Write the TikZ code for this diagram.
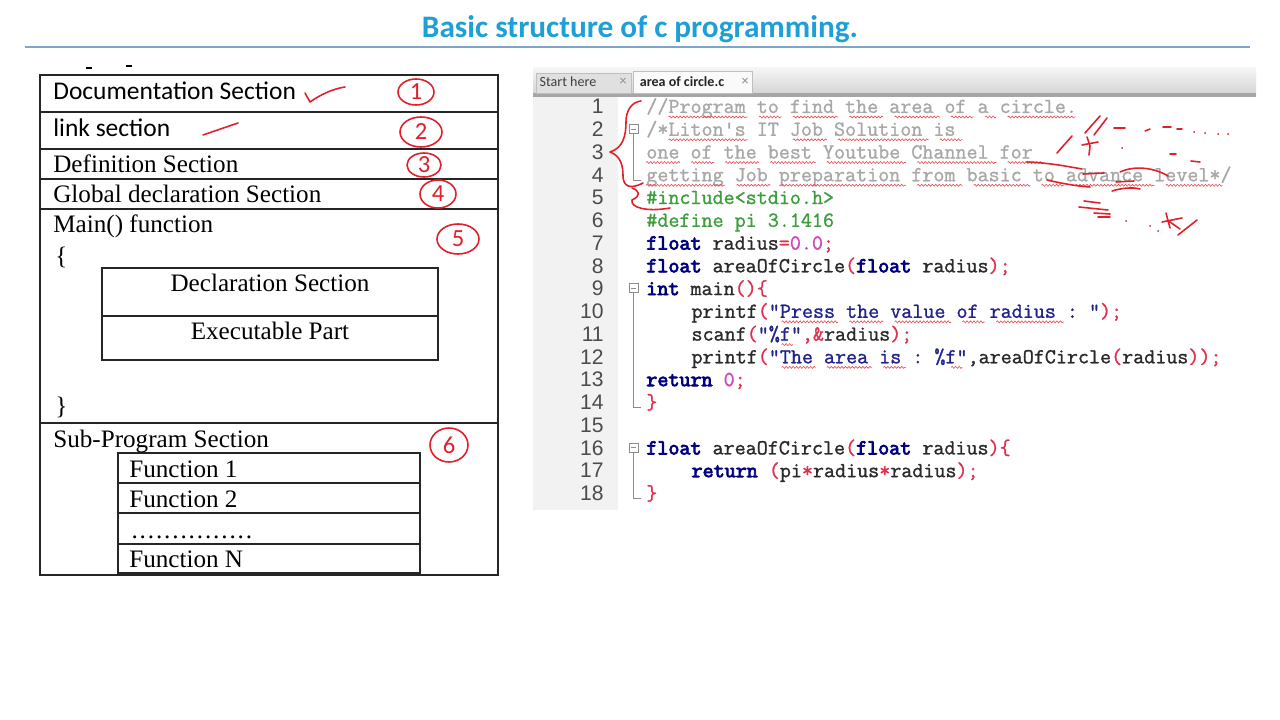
\documentclass[tikz,border=0pt]{standalone}
\usepackage{fontspec}
\setmainfont{Liberation Serif}
\newfontfamily\calib{Carlito}
\newfontfamily\numfont{Liberation Sans}
\newfontfamily\codefont[RawFeature={embolden=1.2}, BoldFont={Latin Modern Mono},
  BoldFeatures={RawFeature={embolden=3.6}}]{Latin Modern Mono}
\usetikzlibrary{shapes.geometric, decorations.pathmorphing}

\definecolor{titleblue}{HTML}{1E9FD6}
\definecolor{ruleblue}{HTML}{7FA6C8}
\definecolor{penred}{HTML}{E0202A}
\definecolor{cmtgrey}{HTML}{A8A8A8}
\definecolor{pregreen}{HTML}{3E9E3E}
\definecolor{kwnavy}{HTML}{00007F}
\definecolor{strnavy}{HTML}{22228C}
\definecolor{numpink}{HTML}{D04AB0}
\definecolor{opred}{HTML}{E03050}
\definecolor{codetxt}{HTML}{2A2A2A}

% code colouring
\newcommand\ckw[1]{\textcolor{kwnavy}{\bfseries #1}}
\newcommand\cop[1]{\textcolor{opred}{#1}}
\newcommand\cnum[1]{\textcolor{numpink}{#1}}
\newcommand\cstr[1]{\textcolor{strnavy}{#1}}
\newcommand\ccmt[1]{\textcolor{cmtgrey}{#1}}
\newcommand\cpre[1]{\textcolor{pregreen}{#1}}
\newcommand\dotrow{\hbox to 24.6mm{\xleaders\hbox to 1.54mm{\hss.\hss}\hfill}}

\begin{document}
\begin{tikzpicture}[
  x=0.2mm, y=-0.2mm,
  frame/.style={draw=black!85, line width=0.7pt},
  sans/.style={font=\calib\fontsize{14.5}{16}\selectfont, inner sep=0pt, anchor=base west},
  serif/.style={font=\fontsize{14.3}{16}\selectfont, inner sep=0pt, anchor=base west},
  code/.style={font=\frenchspacing\fontsize{12.2}{14}\codefont, text=codetxt, inner sep=0pt, anchor=base west},
  lnum/.style={font=\numfont\fontsize{12}{13}\selectfont, text=black!70, inner sep=0pt, anchor=east},
  tab/.style={font=\calib\fontsize{8}{9}\selectfont, text=black!75, inner sep=0pt},
  pen/.style={draw=penred, line width=0.9pt, line cap=round, line join=round},
  ring/.style={pen, ellipse, inner sep=0pt, text=penred, font=\calib\fontsize{14}{15}\selectfont},
  wavy/.style={draw=penred!80, line width=0.35pt, decorate,
    decoration={snake, segment length=0.7mm, amplitude=0.2mm}},
  fold/.style={draw=black!45, line width=0.5pt}
]
\fill[white] (0,0) rectangle (1280,720);
\useasboundingbox (0,0) rectangle (1280,720);

% title
\node[font=\calib\bfseries\fontsize{17.8}{20}\selectfont, text=titleblue] (title) at (640,29) {Basic structure of c programming.};
\draw[ruleblue, line width=0.6pt] (25,47) -- (1250,47);

% structure chart
\draw[black, line width=0.8pt] (86,68) -- (92,68) (126,66) -- (132,66);
\draw[frame] (40,75) rectangle (498,575);
\foreach \y in {112,149,179,209,423}
  \draw[frame] (40,\y) -- (498,\y);
\draw[frame] (102,268) rectangle (438,360);
\draw[frame] (102,316) -- (438,316);
\draw[frame] (118,453) rectangle (420,573);
\foreach \y in {483,513,544}
  \draw[frame] (118,\y) -- (420,\y);

\node[sans] (doc) at (53,100) {Documentation Section};
\node[sans] (link) at (53,136.5) {link section};
\node[serif] (def) at (53,173) {Definition Section};
\node[serif] (glob) at (53,203) {Global declaration Section};
\node[serif] (mainf) at (53,233) {Main() function};
\node[serif] (obr) at (55,264.5) {\{};
\node[serif, anchor=base] (decl) at (270,292) {Declaration Section};
\node[serif, anchor=base] (exec) at (270,339.5) {Executable Part};
\node[serif] (cbr) at (55,414.5) {\}};
\node[serif] (sub) at (53,447) {Sub-Program Section};
\node[serif] (f1) at (129,477) {Function 1};
\node[serif] (f2) at (129,507) {Function 2};
\node[serif] (fdots) at (130,538) {\dotrow};
\node[serif] (fn) at (129,567.5) {Function N};

% red marks on the chart
\draw[pen] (305,93) -- (310,102) .. controls (320,95) and (332,89) .. (345,87);
\draw[pen] (203,135) -- (238,123);
\node[ring, minimum width=7.2mm, minimum height=5.2mm] (k1) at (416,92) {1};
\node[ring, minimum width=8.4mm, minimum height=6mm] (k2) at (421,132) {2};
\node[ring, minimum width=6.8mm, minimum height=4.8mm] (k3) at (424,165) {3};
\node[ring, minimum width=7.2mm, minimum height=5.6mm] (k4) at (438,194) {4};
\node[ring, minimum width=8.4mm, minimum height=6mm] (k5) at (458,239) {5};
\node[ring, minimum width=7.6mm, minimum height=6.8mm] (k6) at (449,445) {6};

% editor window
\shade[top color=black!4, bottom color=black!16] (533,68) rectangle (1256,93);
\fill[black!35] (533,93) rectangle (1256,97);
\fill[black!5] (533,97) rectangle (618,510);
\draw[fill=black!12, draw=black!25] (536,73) rectangle (631,93);
\draw[fill=black!2, draw=black!25] (633,71) rectangle (752,93);
\node[tab] (tstart) at (568,82) {Start here};
\node[tab, text=black!45] (xstart) at (623,82) {×};
\node[tab, font=\calib\bfseries\fontsize{8}{9}\selectfont, text=black!85] (tarea) at (682,82) {area of circle.c};
\node[tab, text=black!45] (xarea) at (745,82) {×};

\foreach \i in {1,...,18}
  \node[lnum] (n\i) at (604,{106.5+(\i-1)*22.76}) {\i};

% fold markers
\draw[fold, fill=white] (629,124.5) rectangle (638,133.5);
\draw[fold] (631,129) -- (636,129) (633.5,133.5) -- (633.5,180) -- (641,180);
\draw[fold, fill=white] (629,283.5) rectangle (638,292.5);
\draw[fold] (631,288) -- (636,288) (633.5,292.5) -- (633.5,407) -- (641,407);
\draw[fold, fill=white] (629,443) rectangle (638,452);
\draw[fold] (631,447.5) -- (636,447.5) (633.5,452) -- (633.5,498) -- (641,498);

% code
\node[code] (c1) at (646,113) {\ccmt{//Program to find the area of a circle.}};
\node[code] (c2) at (646,135.76) {\ccmt{/*Liton's IT Job Solution is}};
\node[code] (c3) at (646,158.52) {\ccmt{one of the best Youtube Channel for}};
\node[code] (c4) at (646,181.28) {\ccmt{getting Job preparation from basic to advance level*/}};
\node[code] (c5) at (646,204.04) {\cpre{\#include<stdio.h>}};
\node[code] (c6) at (646,226.8) {\cpre{\#define pi 3.1416}};
\node[code] (c7) at (646,249.56) {\ckw{float} radius\cop{=}\cnum{0.0}\cop{;}};
\node[code] (c8) at (646,272.32) {\ckw{float} areaOfCircle\cop{(}\ckw{float} radius\cop{);}};
\node[code] (c9) at (646,295.08) {\ckw{int} main\cop{()\{}};
\node[code] (c10) at (691.2,317.84) {printf\cop{(}\cstr{"Press the value of radius : "}\cop{);}};
\node[code] (c11) at (691.2,340.6) {scanf\cop{(}\cstr{"\%f"}\cop{,\&}radius\cop{);}};
\node[code] (c12) at (691.2,363.36) {printf\cop{(}\cstr{"The area is : \%f"},areaOfCircle\cop{(}radius\cop{));}};
\node[code] (c13) at (646,386.12) {\ckw{return} \cnum{0}\cop{;}};
\node[code] (c14) at (646,408.88) {\cop{\}}};
\node[code] (c16) at (646,454.4) {\ckw{float} areaOfCircle\cop{(}\ckw{float} radius\cop{)\{}};
\node[code] (c17) at (691.2,477.16) {\ckw{return} \cop{(}pi\cop{*}radius\cop{*}radius\cop{);}};
\node[code] (c18) at (646,499.92) {\cop{\}}};

% spell-check underlines: line/first char/last char
\foreach \l/\a/\b in {1/2/8,1/10/11,1/13/16,1/18/20,1/22/25,1/27/28,1/30/30,1/32/37,
    2/2/8,2/13/15,2/17/24,2/26/27,
    3/0/2,3/4/5,3/7/9,3/11/14,3/16/22,3/24/30,3/32/34,
    4/0/6,4/8/10,4/12/22,4/24/27,4/29/33,4/35/36,4/38/44,4/46/50,
    10/12/16,10/18/20,10/22/26,10/28/29,10/31/36,11/12/12,
    12/12/14,12/16/19,12/21/22,12/27/27}
  \draw[wavy] ({646+\a*11.3},{117+(\l-1)*22.76}) -- ({646+(\b+1)*11.3},{117+(\l-1)*22.76});

% red marks on the code
\draw[pen] (641,101) .. controls (632,102) and (626,110) .. (626,122)
  .. controls (626,136) and (623,148) .. (610,152)
  .. controls (621,156) and (623,166) .. (623,176)
  .. controls (623,186) and (630,190) .. (643,183);
\draw[pen] (632,188) .. controls (640,191) and (641,196) .. (632,200)
  .. controls (630,208) and (648,212) .. (670,208);
\draw[pen] (1085,133) -- (1100,116) (1094,135) -- (1107,118);
\draw[pen] (1114,128) -- (1125,128) (1145,131) -- (1150,129)
  (1163,127) -- (1171,127) (1177,129) -- (1182,129);
\foreach \p in {(1194,132),(1205,133),(1218,134),(1228,134),(1122,148),
    (1126,221),(1150,226),(1158,231)}
  \fill[penred] \p circle[radius=1];
\draw[pen] (1057,153) -- (1072,136);
\draw[pen] (1082,145) -- (1098,142) (1087,137) -- (1090,146) -- (1089,155);
\draw[pen] (1170,154) -- (1176,154) (1191,161) -- (1200,162);
\draw[pen] (1027,162) .. controls (1050,163) and (1065,166) .. (1082,169);
\draw[pen] (1047,180) .. controls (1060,183) and (1075,186) .. (1090,187);
\draw[pen] (1083,174) -- (1104,173);
\draw[pen] (1120,172) .. controls (1135,165) and (1155,168) .. (1168,176);
\draw[pen] (1116,182) -- (1134,181);
\draw[pen] (1112,191) .. controls (1122,188) and (1132,187) .. (1140,189);
\draw[pen] (1084,201) -- (1100,203) (1079,207) -- (1108,210)
  (1094,213) -- (1110,214) (1098,217) -- (1110,217);
\draw[pen] (1166,213) -- (1170,228) (1162,222) -- (1182,218)
  (1170,222) -- (1180,229) (1178,235) -- (1197,220);
\end{tikzpicture}
\end{document}
